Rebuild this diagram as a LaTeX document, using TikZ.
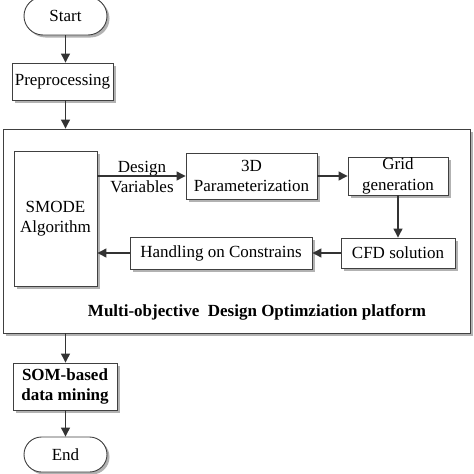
\documentclass[tikz,border=0pt]{standalone}
\usepackage{fontspec}
\setmainfont{Liberation Serif}
\usetikzlibrary{shapes.misc,shadows,arrows.meta,calc}
\begin{document}
\begin{tikzpicture}[x=1pt,y=-1pt,
  font=\fontsize{17}{20.4}\selectfont,
  box/.style={draw=black!75,line width=0.9pt,fill=white,rectangle,inner sep=0pt,align=center,
    drop shadow={shadow xshift=2.5pt,shadow yshift=-2.5pt,fill=black!30,opacity=1}},
  term/.style={box,rounded rectangle},
  arr/.style={draw=black!80,line width=1.2pt,-{Triangle[length=9pt,width=9pt]}}]
\useasboundingbox (0,0) rectangle (474,474);
\node[box,minimum width=467pt,minimum height=204pt] (plat) at (236.5,231) {};
\node[term,minimum width=83pt,minimum height=38pt] (start) at (65.5,16) {Start};
\node[box,minimum width=101pt,minimum height=37pt] (pre) at (62.5,81.5) {Preprocessing};
\node[box,minimum width=83pt,minimum height=135pt] (smode) at (55.5,218.5) {SMODE\\Algorithm};
\node[box,minimum width=131pt,minimum height=46pt] (param) at (251.5,176) {3D\\Parameterization};
\node[box,minimum width=100pt,minimum height=38pt] (grid) at (398,176) {Grid\\generation};
\node[box,minimum width=114pt,minimum height=30pt] (cfd) at (398,253) {CFD solution};
\node[box,minimum width=182pt,minimum height=32pt] (hand) at (221,253) {Handling on Constrains};
\node[font=\fontsize{17}{20.4}\selectfont\bfseries] (title) at (257,312) {Multi-objective\ \ Design Optimziation platform};
\node[box,minimum width=104pt,minimum height=47pt,font=\fontsize{17}{20.4}\selectfont\bfseries] (som) at (65,386.5) {SOM-based\\data mining};
\node[term,minimum width=83pt,minimum height=35pt] (end) at (65.5,454.5) {End};
\node[align=center,inner sep=0pt] (dv) at (142,177) {Design\\Variables};
\draw[arr] (start.south) -- (start.south |- pre.north);
\draw[arr] (pre.south -| start.south) -- (start.south |- plat.north);
\draw[arr] (start.south |- plat.south) -- (start.south |- som.north);
\draw[arr] (som.south -| start.south) -- (start.south |- end.north);
\draw[arr] (smode.east |- param.west) -- (param.west);
\draw[arr] (param.east) -- (grid.west);
\draw[arr] (grid.south) -- (cfd.north);
\draw[arr] (cfd.west) -- (hand.east);
\draw[arr] (hand.west) -- (smode.east |- hand.west);
\end{tikzpicture}
\end{document}
